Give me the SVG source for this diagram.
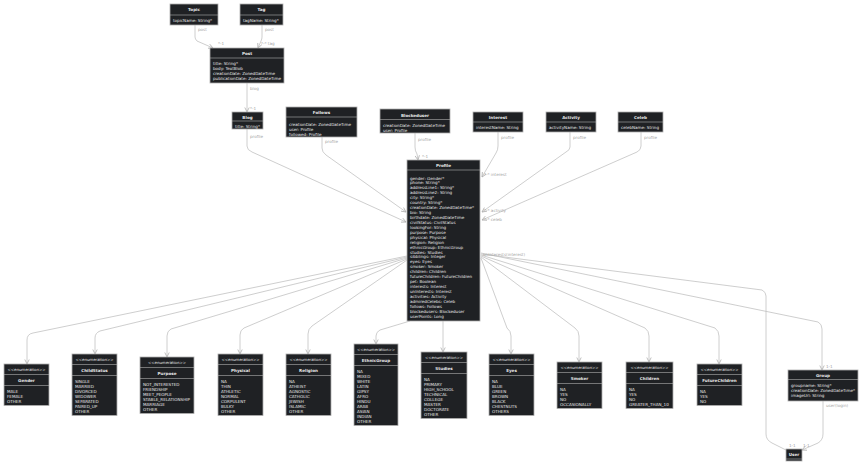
<svg xmlns="http://www.w3.org/2000/svg" width="862" height="466" viewBox="0 0 862 466">
<style>
.bx{fill:#1f2124;stroke:#b0b0b0;stroke-width:0.8}
.dv{stroke:#b0b0b0;stroke-width:0.6}
.t{font-family:"DejaVu Sans","Liberation Sans",Arial,sans-serif;font-size:4.1px;fill:#e6e6e6}
.h{font-weight:bold;text-anchor:middle}
.s{text-anchor:middle;font-size:3.9px}
.c{fill:none;stroke:#c2c2c2;stroke-width:0.8}
.l{font-family:"DejaVu Sans","Liberation Sans",Arial,sans-serif;font-size:4.1px;fill:#a3a3a3}
</style>
<defs>
<marker id="ar" markerWidth="6" markerHeight="6" refX="5" refY="3" orient="auto" markerUnits="userSpaceOnUse">
<path d="M0.5,0.8 L5,3 L0.5,5.2" fill="none" stroke="#b0b0b0" stroke-width="0.8"/>
</marker>
</defs>
<rect width="862" height="466" fill="#ffffff"/>
<g id="connectors">
<path class="c" marker-end="url(#ar)" d="M195,25 L195,37 Q195,39 197,41 L213,48"/>
<path class="c" marker-end="url(#ar)" d="M262,25 L262,37 Q262,39 261,41 L258,48"/>
<path class="c" marker-end="url(#ar)" d="M247,83 L247,112"/>
<path class="c" marker-end="url(#ar)" d="M247,129 L247,146 Q247,150 252,152 L406,222"/>
<path class="c" marker-end="url(#ar)" d="M322,137 L322,148 Q322,152 326,155 L406,212"/>
<path class="c" marker-end="url(#ar)" d="M415,133 L415,147 Q415,151 417,154 L418,160"/>
<path class="c" marker-end="url(#ar)" d="M498,132 L498,146 Q498,150 496,153 L482,177"/>
<path class="c" marker-end="url(#ar)" d="M570,132 L570,147 Q570,150 566,152 L482,212"/>
<path class="c" marker-end="url(#ar)" d="M641,132 L641,146 Q641,150 637,152 L482,220"/>
<path class="c" marker-end="url(#ar)" d="M443,321 L443,352"/>
<path class="c" marker-end="url(#ar)" d="M407,256 L33,333 Q27,334 27,340 L27,364"/>
<path class="c" marker-end="url(#ar)" d="M407,257 L100,331 Q95,333 95,338 L95,354"/>
<path class="c" marker-end="url(#ar)" d="M407,258 L171,329 Q167,331 167,336 L167,357"/>
<path class="c" marker-end="url(#ar)" d="M407,259 L244,328 Q240,330 240,335 L240,354"/>
<path class="c" marker-end="url(#ar)" d="M407,260 L312,326 Q308,329 308,334 L308,354"/>
<path class="c" marker-end="url(#ar)" d="M410,321 L380,330 Q376,332 376,336 L376,344"/>
<path class="c" marker-end="url(#ar)" d="M481,258 L507,328 Q511,331 511,336 L511,354"/>
<path class="c" marker-end="url(#ar)" d="M481,257 L575,328 Q579,331 579,336 L579,362"/>
<path class="c" marker-end="url(#ar)" d="M481,256 L645,328 Q649,331 649,336 L649,362"/>
<path class="c" marker-end="url(#ar)" d="M481,255 L715,328 Q719,331 719,336 L719,364"/>
<path class="c" d="M481,254 L762,290 Q766,292 766,296 L766,434 Q766,440 772,443 L786,450"/>
<path class="c" marker-end="url(#ar)" d="M481,253 L818,322 Q822,324 822,329 L822,370"/>
<path class="c" marker-end="url(#ar)" d="M823,401 L823,434 Q823,440 818,443 L802,450"/>
</g>
<g id="labels">
<text class="l" x="198" y="31">post</text>
<text class="l" x="218" y="45">*-1</text>
<text class="l" x="265" y="31">post</text>
<text class="l" x="261" y="45">*-* tag</text>
<text class="l" x="250" y="90">blog</text>
<text class="l" x="250" y="110">*-1</text>
<text class="l" x="250" y="138">profile</text>
<text class="l" x="325" y="143">profile</text>
<text class="l" x="418" y="141">profile</text>
<text class="l" x="422" y="158">*-1</text>
<text class="l" x="501" y="139">profile</text>
<text class="l" x="573" y="139">profile</text>
<text class="l" x="644" y="139">profile</text>
<text class="l" x="484" y="176">*-* interest</text>
<text class="l" x="484" y="212">*-* activity</text>
<text class="l" x="484" y="221">*-* celeb</text>
<text class="l" x="483" y="256">unInterests(interest)</text>
<text class="l" x="826" y="368">1-1</text>
<text class="l" x="826" y="407">user(login)</text>
<text class="l" x="789" y="447">1-1</text>
<text class="l" x="803" y="447">1-1</text>
</g>
<g id="Topic"><rect class="bx" x="170" y="4" width="48" height="21"/><line class="dv" x1="170" y1="15" x2="218" y2="15"/><text class="t h" x="194" y="11">Topic</text><text class="t" x="173" y="21.5">topicName: String*</text></g>
<g id="Tag"><rect class="bx" x="240" y="4" width="43" height="21"/><line class="dv" x1="240" y1="15" x2="283" y2="15"/><text class="t h" x="261.5" y="11">Tag</text><text class="t" x="243" y="21.5">tagName: String*</text></g>
<g id="Post"><rect class="bx" x="210" y="48" width="74" height="35"/><line class="dv" x1="210" y1="58" x2="284" y2="58"/><text class="t h" x="247" y="55">Post</text>
<text class="t" x="213" y="64.8">title: String*</text><text class="t" x="213" y="69.8">body: TextBlob</text><text class="t" x="213" y="74.8">creationDate: ZonedDateTime</text><text class="t" x="213" y="79.8">publicationDate: ZonedDateTime</text></g>
<g id="Blog"><rect class="bx" x="232" y="112" width="31" height="17"/><line class="dv" x1="232" y1="121" x2="263" y2="121"/><text class="t h" x="247.5" y="118.5">Blog</text><text class="t" x="235" y="127.5">title: String*</text></g>
<g id="Follows"><rect class="bx" x="286" y="107" width="71" height="30"/><line class="dv" x1="286" y1="117" x2="357" y2="117"/><text class="t h" x="321.5" y="113.5">Follows</text>
<text class="t" x="289" y="125.5">creationDate: ZonedDateTime</text><text class="t" x="289" y="130.5">user: Profile</text><text class="t" x="289" y="135.5">followed: Profile</text></g>
<g id="Blockeduser"><rect class="bx" x="380" y="109" width="70" height="24"/><line class="dv" x1="380" y1="119.5" x2="450" y2="119.5"/><text class="t h" x="415" y="116.5">Blockeduser</text>
<text class="t" x="383" y="126.5">creationDate: ZonedDateTime</text><text class="t" x="383" y="131.5">user: Profile</text></g>
<g id="Interest"><rect class="bx" x="473" y="112" width="50" height="20"/><line class="dv" x1="473" y1="122" x2="523" y2="122"/><text class="t h" x="498" y="118.5">Interest</text><text class="t" x="476" y="128.5">interestName: String</text></g>
<g id="Activity"><rect class="bx" x="546" y="112" width="50" height="20"/><line class="dv" x1="546" y1="122" x2="596" y2="122"/><text class="t h" x="571" y="118.5">Activity</text><text class="t" x="549" y="128.5">activityName: String</text></g>
<g id="Celeb"><rect class="bx" x="618" y="112" width="45" height="20"/><line class="dv" x1="618" y1="122" x2="663" y2="122"/><text class="t h" x="640.5" y="118.5">Celeb</text><text class="t" x="621" y="128.5">celebName: String</text></g>
<g id="Profile"><rect class="bx" x="407" y="160" width="73" height="161"/><line class="dv" x1="407" y1="170" x2="480" y2="170"/><text class="t h" x="443.5" y="166.5">Profile</text>
<text class="t" x="410" y="179.5">gender: Gender*</text>
<text class="t" x="410" y="184.4">phone: String*</text>
<text class="t" x="410" y="189.4">addressLine1: String*</text>
<text class="t" x="410" y="194.3">addressLine2: String</text>
<text class="t" x="410" y="199.2">city: String*</text>
<text class="t" x="410" y="204.2">country: String*</text>
<text class="t" x="410" y="209.1">creationDate: ZonedDateTime*</text>
<text class="t" x="410" y="214">bio: String</text>
<text class="t" x="410" y="219">birthdate: ZonedDateTime</text>
<text class="t" x="410" y="223.9">civilStatus: CivilStatus</text>
<text class="t" x="410" y="228.8">lookingFor: String</text>
<text class="t" x="410" y="233.7">purpose: Purpose</text>
<text class="t" x="410" y="238.7">physical: Physical</text>
<text class="t" x="410" y="243.6">religion: Religion</text>
<text class="t" x="410" y="248.5">ethnicGroup: EthnicGroup</text>
<text class="t" x="410" y="253.5">studies: Studies</text>
<text class="t" x="410" y="258.4">sibblings: Integer</text>
<text class="t" x="410" y="263.3">eyes: Eyes</text>
<text class="t" x="410" y="268.2">smoker: Smoker</text>
<text class="t" x="410" y="273.2">children: Children</text>
<text class="t" x="410" y="278.1">futureChildren: FutureChildren</text>
<text class="t" x="410" y="283">pet: Boolean</text>
<text class="t" x="410" y="288">interests: Interest</text>
<text class="t" x="410" y="292.9">unInterests: Interest</text>
<text class="t" x="410" y="297.8">activities: Activity</text>
<text class="t" x="410" y="302.8">admiredCelebs: Celeb</text>
<text class="t" x="410" y="307.7">follows: Follows</text>
<text class="t" x="410" y="312.6">blockedusers: Blockeduser</text>
<text class="t" x="410" y="317.6">userPoints: Long</text>
</g>
<g id="Gender"><rect class="bx" x="4" y="364" width="45" height="41.5"/><line class="dv" x1="4" y1="374.5" x2="49" y2="374.5"/><line class="dv" x1="4" y1="385.5" x2="49" y2="385.5"/><text class="t s" x="26.5" y="371">&lt;&lt;enumeration&gt;&gt;</text><text class="t h" x="26.5" y="381.5">Gender</text>
<text class="t" x="7" y="392.5">MALE</text><text class="t" x="7" y="397.5">FEMALE</text><text class="t" x="7" y="402.5">OTHER</text></g>
<g id="ChildStatus"><rect class="bx" x="72" y="354" width="45" height="61.5"/><line class="dv" x1="72" y1="364.5" x2="117" y2="364.5"/><line class="dv" x1="72" y1="375.5" x2="117" y2="375.5"/><text class="t s" x="94.5" y="361">&lt;&lt;enumeration&gt;&gt;</text><text class="t h" x="94.5" y="371.5">ChildStatus</text>
<text class="t" x="75" y="382.5">SINGLE</text><text class="t" x="75" y="387.5">MARRIED</text><text class="t" x="75" y="392.5">DIVORCED</text><text class="t" x="75" y="397.5">WIDOWER</text><text class="t" x="75" y="402.5">SEPARATED</text><text class="t" x="75" y="407.5">PAIRED_UP</text><text class="t" x="75" y="412.5">OTHER</text></g>
<g id="Purpose"><rect class="bx" x="140" y="357" width="54" height="56.5"/><line class="dv" x1="140" y1="367.5" x2="194" y2="367.5"/><line class="dv" x1="140" y1="378.5" x2="194" y2="378.5"/><text class="t s" x="167" y="364">&lt;&lt;enumeration&gt;&gt;</text><text class="t h" x="167" y="374.5">Purpose</text>
<text class="t" x="143" y="385.5">NOT_INTERESTED</text><text class="t" x="143" y="390.5">FRIENDSHIP</text><text class="t" x="143" y="395.5">MEET_PEOPLE</text><text class="t" x="143" y="400.5">STABLE_RELATIONSHIP</text><text class="t" x="143" y="405.5">MARRIAGE</text><text class="t" x="143" y="410.5">OTHER</text></g>
<g id="Physical"><rect class="bx" x="218" y="354" width="45" height="61.5"/><line class="dv" x1="218" y1="364.5" x2="263" y2="364.5"/><line class="dv" x1="218" y1="375.5" x2="263" y2="375.5"/><text class="t s" x="240.5" y="361">&lt;&lt;enumeration&gt;&gt;</text><text class="t h" x="240.5" y="371.5">Physical</text>
<text class="t" x="221" y="382.5">NA</text><text class="t" x="221" y="387.5">THIN</text><text class="t" x="221" y="392.5">ATHLETIC</text><text class="t" x="221" y="397.5">NORMAL</text><text class="t" x="221" y="402.5">CORPULENT</text><text class="t" x="221" y="407.5">BULKY</text><text class="t" x="221" y="412.5">OTHER</text></g>
<g id="Religion"><rect class="bx" x="286" y="354" width="45" height="61.5"/><line class="dv" x1="286" y1="364.5" x2="331" y2="364.5"/><line class="dv" x1="286" y1="375.5" x2="331" y2="375.5"/><text class="t s" x="308.5" y="361">&lt;&lt;enumeration&gt;&gt;</text><text class="t h" x="308.5" y="371.5">Religion</text>
<text class="t" x="289" y="382.5">NA</text><text class="t" x="289" y="387.5">ATHEIST</text><text class="t" x="289" y="392.5">AGNOSTIC</text><text class="t" x="289" y="397.5">CATHOLIC</text><text class="t" x="289" y="402.5">JEWISH</text><text class="t" x="289" y="407.5">ISLAMIC</text><text class="t" x="289" y="412.5">OTHER</text></g>
<g id="EthnicGroup"><rect class="bx" x="354" y="344" width="44" height="81.5"/><line class="dv" x1="354" y1="354.5" x2="398" y2="354.5"/><line class="dv" x1="354" y1="365.5" x2="398" y2="365.5"/><text class="t s" x="376" y="351">&lt;&lt;enumeration&gt;&gt;</text><text class="t h" x="376" y="361.5">EthnicGroup</text>
<text class="t" x="357" y="372.5">NA</text><text class="t" x="357" y="377.5">MIXED</text><text class="t" x="357" y="382.5">WHITE</text><text class="t" x="357" y="387.5">LATIN</text><text class="t" x="357" y="392.5">GIPSY</text><text class="t" x="357" y="397.5">AFRO</text><text class="t" x="357" y="402.5">HINDU</text><text class="t" x="357" y="407.5">ARAB</text><text class="t" x="357" y="412.5">ASIAN</text><text class="t" x="357" y="417.5">INDIAN</text><text class="t" x="357" y="422.5">OTHER</text></g>
<g id="Studies"><rect class="bx" x="421" y="352" width="46" height="66.5"/><line class="dv" x1="421" y1="362.5" x2="467" y2="362.5"/><line class="dv" x1="421" y1="373.5" x2="467" y2="373.5"/><text class="t s" x="444" y="359">&lt;&lt;enumeration&gt;&gt;</text><text class="t h" x="444" y="369.5">Studies</text>
<text class="t" x="424" y="380.5">NA</text><text class="t" x="424" y="385.5">PRIMARY</text><text class="t" x="424" y="390.5">HIGH_SCHOOL</text><text class="t" x="424" y="395.5">TECHNICAL</text><text class="t" x="424" y="400.5">COLLEGE</text><text class="t" x="424" y="405.5">MASTER</text><text class="t" x="424" y="410.5">DOCTORATE</text><text class="t" x="424" y="415.5">OTHER</text></g>
<g id="Eyes"><rect class="bx" x="489" y="354" width="45" height="61.5"/><line class="dv" x1="489" y1="364.5" x2="534" y2="364.5"/><line class="dv" x1="489" y1="375.5" x2="534" y2="375.5"/><text class="t s" x="511.5" y="361">&lt;&lt;enumeration&gt;&gt;</text><text class="t h" x="511.5" y="371.5">Eyes</text>
<text class="t" x="492" y="382.5">NA</text><text class="t" x="492" y="387.5">BLUE</text><text class="t" x="492" y="392.5">GREEN</text><text class="t" x="492" y="397.5">BROWN</text><text class="t" x="492" y="402.5">BLACK</text><text class="t" x="492" y="407.5">CHESTNUTS</text><text class="t" x="492" y="412.5">OTHERS</text></g>
<g id="Smoker"><rect class="bx" x="557" y="362" width="45" height="46.5"/><line class="dv" x1="557" y1="372.5" x2="602" y2="372.5"/><line class="dv" x1="557" y1="383.5" x2="602" y2="383.5"/><text class="t s" x="579.5" y="369">&lt;&lt;enumeration&gt;&gt;</text><text class="t h" x="579.5" y="379.5">Smoker</text>
<text class="t" x="560" y="390.5">NA</text><text class="t" x="560" y="395.5">YES</text><text class="t" x="560" y="400.5">NO</text><text class="t" x="560" y="405.5">OCCASIONALLY</text></g>
<g id="Children"><rect class="bx" x="626" y="362" width="47" height="46.5"/><line class="dv" x1="626" y1="372.5" x2="673" y2="372.5"/><line class="dv" x1="626" y1="383.5" x2="673" y2="383.5"/><text class="t s" x="649.5" y="369">&lt;&lt;enumeration&gt;&gt;</text><text class="t h" x="649.5" y="379.5">Children</text>
<text class="t" x="629" y="390.5">NA</text><text class="t" x="629" y="395.5">YES</text><text class="t" x="629" y="400.5">NO</text><text class="t" x="629" y="405.5">GREATER_THAN_10</text></g>
<g id="FutureChildren"><rect class="bx" x="697" y="364" width="45" height="41.5"/><line class="dv" x1="697" y1="374.5" x2="742" y2="374.5"/><line class="dv" x1="697" y1="385.5" x2="742" y2="385.5"/><text class="t s" x="719.5" y="371">&lt;&lt;enumeration&gt;&gt;</text><text class="t h" x="719.5" y="381.5">FutureChildren</text>
<text class="t" x="700" y="392.5">NA</text><text class="t" x="700" y="397.5">YES</text><text class="t" x="700" y="402.5">NO</text></g>
<g id="Group"><rect class="bx" x="788" y="370" width="70" height="31"/><line class="dv" x1="788" y1="379.5" x2="858" y2="379.5"/><text class="t h" x="823" y="376.5">Group</text>
<text class="t" x="791" y="386.5">groupname: String*</text><text class="t" x="791" y="391.5">creationDate: ZonedDateTime*</text><text class="t" x="791" y="396.5">imageUrl: String</text></g>
<g id="User"><rect class="bx" x="786" y="449" width="16" height="12"/><line class="dv" x1="786" y1="459" x2="802" y2="459"/><text class="t h" x="794" y="456">User</text></g>
</svg>
